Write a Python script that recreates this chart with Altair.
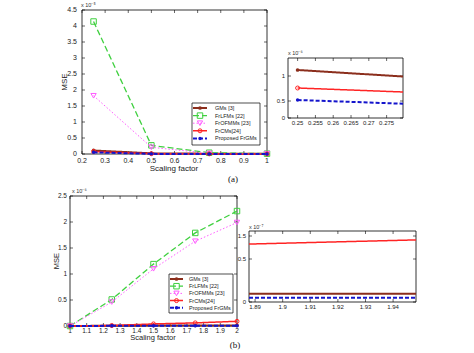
import altair as alt
import pandas as pd

FONT = "Liberation Sans"

series = ["GMs [3]", "FrLFMs [22]", "FrOFMMs [23]", "FrCMs[24]", "Proposed FrGMs"]

# ---- panel (a): MSE (x 1e-5) vs scaling factor
xa = [0.25, 0.5, 0.75, 1.0]
ya = {
    "GMs [3]": [0.11, 0.02, 0.01, 0.005],
    "FrLFMs [22]": [4.14, 0.27, 0.04, 0.01],
    "FrOFMMs [23]": [1.82, 0.21, 0.02, 0.01],
    "FrCMs[24]": [0.077, 0.01, 0.005, 0.002],
    "Proposed FrGMs": [0.052, 0.004, 0.002, 0.001],
}
xa_ticks = [0.2, 0.3, 0.4, 0.5, 0.6, 0.7, 0.8, 0.9, 1.0]
ya_ticks = [0, 0.5, 1, 1.5, 2, 2.5, 3, 3.5, 4, 4.5]

# ---- inset (a): zoom near 0.25 (x 1e-6)
xia = [0.25, 0.2796]
yia = {
    "GMs [3]": [1.12, 0.99],
    "FrCMs[24]": [0.76, 0.68],
    "Proposed FrGMs": [0.52, 0.42],
}
xia_ticks = [0.25, 0.255, 0.26, 0.265, 0.27, 0.275]
yia_ticks = [0, 0.5, 1]

# ---- panel (b): MSE (x 1e-6) vs scaling factor
xb = [1.0, 1.25, 1.5, 1.75, 2.0]
yb = {
    "GMs [3]": [0, 0.005, 0.008, 0.01, 0.01],
    "FrLFMs [22]": [0, 0.51, 1.19, 1.79, 2.21],
    "FrOFMMs [23]": [0, 0.46, 1.10, 1.63, 1.99],
    "FrCMs[24]": [0, 0.01, 0.04, 0.06, 0.09],
    "Proposed FrGMs": [0, 0.003, 0.005, 0.005, 0.005],
}
xb_ticks = [1, 1.1, 1.2, 1.3, 1.4, 1.5, 1.6, 1.7, 1.8, 1.9, 2]
yb_ticks = [0, 0.5, 1, 1.5, 2, 2.5]

# ---- inset (b): zoom near 1.9 (x 1e-7)
xib = [1.8878, 1.9483]
yib = {
    "GMs [3]": [0.095, 0.095],
    "FrCMs[24]": [1.15, 1.33],
    "Proposed FrGMs": [0.048, 0.048],
}
xib_ticks = [1.89, 1.9, 1.91, 1.92, 1.93, 1.94]
yib_ticks = [0, 0.5, 1.5]

style = {
    "GMs [3]": dict(color="#8B2E1C", dash=[1, 0], width=2.0, shape="circle", filled=True, size=14),
    "FrLFMs [22]": dict(color="#3FD03F", dash=[6, 3], width=1.3, shape="square", filled=False, size=30),
    "FrOFMMs [23]": dict(color="#FF5CFF", dash=[1.5, 2], width=1.0, shape="triangle-down", filled=False, size=28),
    "FrCMs[24]": dict(color="#FF2424", dash=[1, 0], width=1.5, shape="circle", filled=False, size=16),
    "Proposed FrGMs": dict(color="#1414CC", dash=[4, 2], width=2.0, shape="circle", filled=True, size=12),
}

# panel geometry (page pixels): scale ranges, frame, label placement
panels = {
    "A": dict(xdom=[0.2, 1.0], xr=[82, 267], ydom=[0, 4.5], yr=[154, 10],
              box=(82, 10, 267, 154), xlab_y=161, ylab_x=77, fs=7,
              xtitle=(174, 169), ytitle=(65, 82), tfs=8, exp=("x 10\u207B\u2075", 81, 5),
              tag=("(a)", 233, 179)),
    "IA": dict(xdom=[0.2473, 0.2796], xr=[288, 403], ydom=[0, 0.5, 1, 1.36], yr=[118, 101, 76, 58],
               box=(288, 58, 403, 118), xlab_y=123, ylab_x=285, fs=6,
               exp=("x 10\u207B\u2076", 288, 53)),
    "B": dict(xdom=[1.0, 2.0], xr=[70, 237], ydom=[0, 2.5], yr=[326, 196],
              box=(70, 196, 237, 326), xlab_y=331, ylab_x=67, fs=6.5,
              xtitle=(153, 338), ytitle=(57, 261), tfs=7.5, exp=("x 10\u207B\u2076", 72, 191),
              tag=("(b)", 235, 345)),
    "IB": dict(xdom=[1.8878, 1.9483], xr=[249, 416], ydom=[0, 0.5, 1.5, 1.72], yr=[302, 259, 236, 231],
               box=(249, 231, 416, 302), xlab_y=307, ylab_x=246, fs=6,
               exp=("x 10\u207B\u2077", 249, 227)),
}


def XE(p):
    return alt.X("x:Q", scale=alt.Scale(domain=p["xdom"], range=p["xr"], nice=False, zero=False), axis=None)


def YE(p):
    return alt.Y("y:Q", scale=alt.Scale(domain=p["ydom"], range=p["yr"], nice=False, zero=False), axis=None)


def txt(s, x, y, fs, align="center", angle=0, font=FONT, color="#222"):
    return alt.Chart(pd.DataFrame({"t": [s]})).mark_text(
        align=align, baseline="middle", fontSize=fs, font=font, color=color, angle=angle
    ).encode(text="t:N", x=alt.value(x), y=alt.value(y))


layers = []


def add_panel(key, xs, ydict, xticks, yticks, markers="all"):
    p = panels[key]
    x0, y0, x1, y1 = p["box"]
    one = pd.DataFrame({"t": [0]})
    layers.append(alt.Chart(one).mark_rect(fill="white", stroke="black", strokeWidth=0.8).encode(
        x=alt.value(x0), x2=alt.value(x1), y=alt.value(y0), y2=alt.value(y1)))
    tx = pd.DataFrame({"x": xticks})
    ty = pd.DataFrame({"y": yticks})
    tl = 3
    layers.append(alt.Chart(tx).mark_rule(color="black", strokeWidth=0.6).encode(
        x=XE(p), y=alt.value(y1), y2=alt.value(y1 - tl)))
    layers.append(alt.Chart(tx).mark_rule(color="black", strokeWidth=0.6).encode(
        x=XE(p), y=alt.value(y0), y2=alt.value(y0 + tl)))
    layers.append(alt.Chart(ty).mark_rule(color="black", strokeWidth=0.6).encode(
        y=YE(p), x=alt.value(x0), x2=alt.value(x0 + tl)))
    layers.append(alt.Chart(ty).mark_rule(color="black", strokeWidth=0.6).encode(
        y=YE(p), x=alt.value(x1), x2=alt.value(x1 - tl)))
    layers.append(alt.Chart(tx).mark_text(
        baseline="middle", align="center", fontSize=p["fs"], font=FONT, color="#222"
    ).encode(x=XE(p), y=alt.value(p["xlab_y"]), text=alt.Text("x:Q", format="~g")))
    layers.append(alt.Chart(ty).mark_text(
        baseline="middle", align="right", fontSize=p["fs"], font=FONT, color="#222"
    ).encode(y=YE(p), x=alt.value(p["ylab_x"]), text=alt.Text("y:Q", format="~g")))

    for name, vals in ydict.items():
        st = style[name]
        df = pd.DataFrame({"x": xs, "y": vals})
        layers.append(alt.Chart(df).mark_line(
            color=st["color"], strokeDash=st["dash"], strokeWidth=st["width"]
        ).encode(x=XE(p), y=YE(p)))
        if markers != "none":
            dp = df if markers == "all" else df.iloc[:1]
            layers.append(alt.Chart(dp).mark_point(
                shape=st["shape"], filled=st["filled"], color=st["color"], size=st["size"],
                strokeWidth=1.0, opacity=1
            ).encode(x=XE(p), y=YE(p)))

    e, ex, ey = p["exp"]
    layers.append(txt(e, ex, ey, 5.5, align="left", color="#333"))
    if "xtitle" in p:
        layers.append(txt("Scaling factor", p["xtitle"][0], p["xtitle"][1], p["tfs"]))
        layers.append(txt("MSE", p["ytitle"][0], p["ytitle"][1], p["tfs"], angle=270))
    if "tag" in p:
        t, tx_, ty_ = p["tag"]
        layers.append(txt(t, tx_, ty_, 9, font="Liberation Serif", color="#111"))


def add_legend(box, y_first, dy, seg, mark_x, text_x, fs):
    bx0, by0, bx1, by1 = box
    one = pd.DataFrame({"t": [0]})
    layers.append(alt.Chart(one).mark_rect(fill="white", stroke="black", strokeWidth=0.7).encode(
        x=alt.value(bx0), x2=alt.value(bx1), y=alt.value(by0), y2=alt.value(by1)))
    for i, name in enumerate(series):
        st = style[name]
        ry = y_first + dy * i
        layers.append(alt.Chart(one).mark_rule(
            color=st["color"], strokeDash=st["dash"], strokeWidth=st["width"]
        ).encode(x=alt.value(seg[0]), x2=alt.value(seg[1]), y=alt.value(ry)))
        layers.append(alt.Chart(one).mark_point(
            shape=st["shape"], filled=st["filled"], color=st["color"], size=st["size"],
            strokeWidth=1.0, opacity=1
        ).encode(x=alt.value(mark_x), y=alt.value(ry)))
        layers.append(txt(name, text_x, ry, fs, align="left"))


add_panel("A", xa, ya, xa_ticks, ya_ticks)
add_legend((192, 103, 260, 145), 108, 7.6, (193, 207), 200, 215, 5.5)
add_panel("IA", xia, yia, xia_ticks, yia_ticks, markers="first")
add_panel("B", xb, yb, xb_ticks, yb_ticks)
add_legend((169, 274, 233, 313), 279, 7.2, (170, 183), 176.5, 189, 5.5)
add_panel("IB", xib, yib, xib_ticks, yib_ticks, markers="none")

chart = alt.layer(*layers).resolve_scale(x="independent", y="independent").properties(
    width=474, height=353, padding=0,
    autosize=alt.AutoSizeParams(type="none"),
    background="white",
).configure_view(stroke=None)

chart.save("out.html", embed_options={"renderer": "svg", "actions": False})
